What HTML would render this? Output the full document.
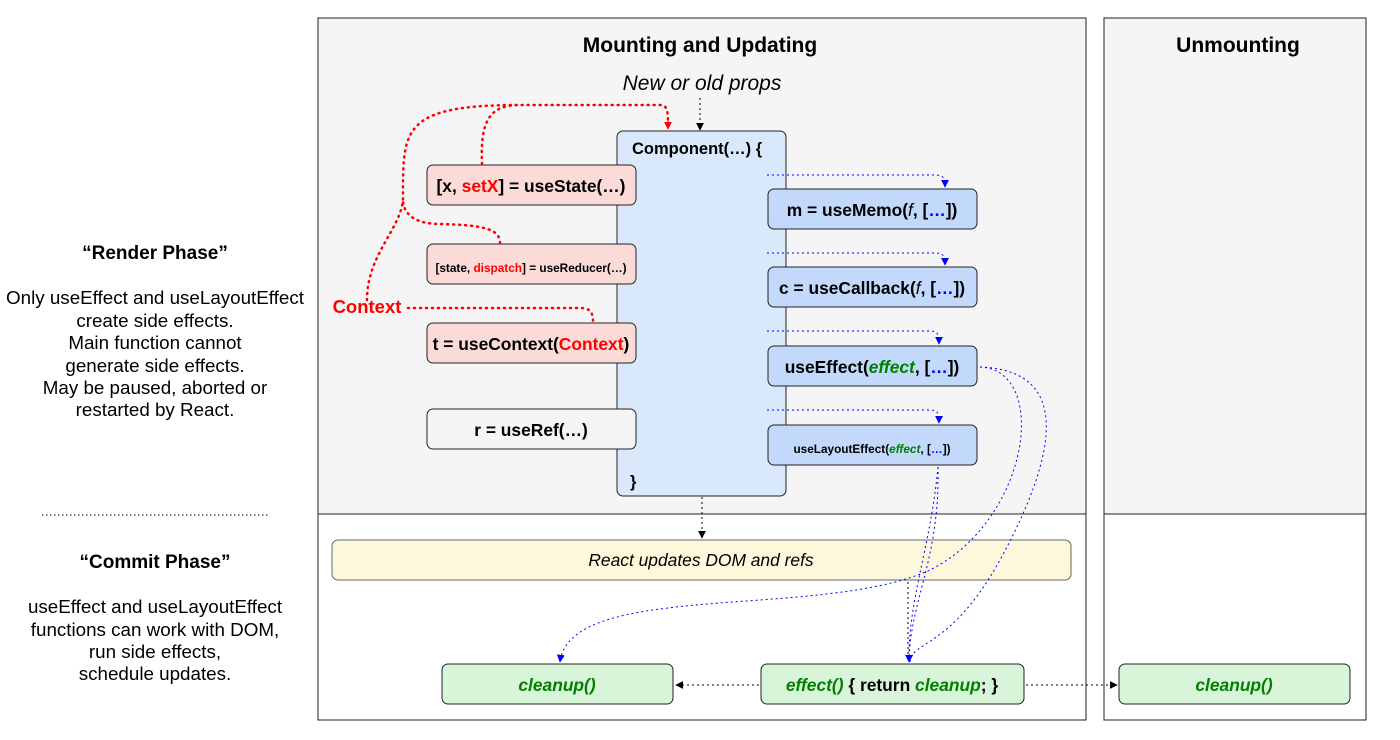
<!DOCTYPE html>
<html><head><style>body{margin:0;background:#fff}svg{display:block}text{font-family:"Liberation Sans",sans-serif}</style></head><body>
<svg width="1400" height="740" viewBox="0 0 1400 740" xmlns="http://www.w3.org/2000/svg">
<defs>
<marker id="ab" viewBox="0 0 10 10" refX="9" refY="5" markerUnits="userSpaceOnUse" markerWidth="8" markerHeight="8" orient="auto"><path d="M0,0L10,5L0,10z" fill="#00f"/></marker>
<marker id="ar" viewBox="0 0 10 10" refX="9" refY="5" markerUnits="userSpaceOnUse" markerWidth="8" markerHeight="8" orient="auto"><path d="M0,0L10,5L0,10z" fill="#f00"/></marker>
<marker id="ak" viewBox="0 0 10 10" refX="9" refY="5" markerUnits="userSpaceOnUse" markerWidth="8" markerHeight="8" orient="auto"><path d="M0,0L10,5L0,10z" fill="#000"/></marker>
</defs>
<rect x="318" y="18" width="768" height="496" fill="#f5f5f5" stroke="#222"/>
<rect x="318" y="514" width="768" height="206" fill="#fff" stroke="#222"/>
<rect x="1104" y="18" width="262" height="496" fill="#f5f5f5" stroke="#222"/>
<rect x="1104" y="514" width="262" height="206" fill="#fff" stroke="#222"/>
<text x="700" y="52" font-size="21" font-weight="bold" text-anchor="middle">Mounting and Updating</text>
<text x="1238" y="52" font-size="21" font-weight="bold" text-anchor="middle">Unmounting</text>
<text x="702" y="90" font-size="21" font-style="italic" text-anchor="middle">New or old props</text>
<g font-size="18.8" text-anchor="middle">
<text x="155" y="259" font-size="19" font-weight="bold">“Render Phase”</text>
<text x="155" y="304">Only useEffect and useLayoutEffect</text>
<text x="155" y="327">create side effects.</text>
<text x="155" y="349">Main function cannot</text>
<text x="155" y="372">generate side effects.</text>
<text x="155" y="394">May be paused, aborted or</text>
<text x="155" y="416">restarted by React.</text>
<text x="155" y="568" font-size="19" font-weight="bold">“Commit Phase”</text>
<text x="155" y="613">useEffect and useLayoutEffect</text>
<text x="155" y="636">functions can work with DOM,</text>
<text x="155" y="658">run side effects,</text>
<text x="155" y="680">schedule updates.</text>
</g>
<line x1="42" y1="515" x2="268" y2="515" stroke="#000" stroke-dasharray="1.5,2.5"/>
<rect x="617" y="131" width="169" height="365" rx="6" fill="#dae8fc" stroke="#222"/>
<text x="632" y="154" font-size="16.5" font-weight="bold">Component(…) {</text>
<text x="630" y="487" font-size="16.5" font-weight="bold">}</text>
<g stroke="#222" font-weight="bold" text-anchor="middle">
<rect x="427" y="165" width="209" height="40" rx="6" fill="#fadbd8"/>
<rect x="427" y="244" width="209" height="40" rx="6" fill="#fadbd8"/>
<rect x="427" y="323" width="209" height="40" rx="6" fill="#fadbd8"/>
<rect x="427" y="409" width="209" height="40" rx="6" fill="#f5f5f5"/>
<rect x="768" y="189" width="209" height="40" rx="6" fill="#c2d9fb"/>
<rect x="768" y="267" width="209" height="40" rx="6" fill="#c2d9fb"/>
<rect x="768" y="346" width="209" height="40" rx="6" fill="#c2d9fb"/>
<rect x="768" y="425" width="209" height="40" rx="6" fill="#c2d9fb"/>
<rect x="332" y="540" width="739" height="40" rx="6" fill="#fdf8db" stroke="#666"/>
<rect x="442" y="664" width="231" height="40" rx="6" fill="#d9f5d9"/>
<rect x="761" y="664" width="263" height="40" rx="6" fill="#d9f5d9"/>
<rect x="1119" y="664" width="231" height="40" rx="6" fill="#d9f5d9"/>
</g>
<g font-weight="bold" text-anchor="middle" font-size="17.4">
<text x="531" y="192">[x, <tspan fill="#f00">setX</tspan>] = useState(…)</text>
<text x="531" y="272" font-size="11.8">[state, <tspan fill="#f00">dispatch</tspan>] = useReducer(…)</text>
<text x="531" y="350">t = useContext(<tspan fill="#f00">Context</tspan>)</text>
<text x="531" y="436">r = useRef(…)</text>
<text x="872" y="216">m = useMemo(<tspan font-style="italic" font-weight="normal">f</tspan>, [<tspan fill="#00f">…</tspan>])</text>
<text x="872" y="294">c = useCallback(<tspan font-style="italic" font-weight="normal">f</tspan>, [<tspan fill="#00f">…</tspan>])</text>
<text x="872" y="373">useEffect(<tspan fill="#008000" font-style="italic">effect</tspan>, [<tspan fill="#00f">…</tspan>])</text>
<text x="872" y="453" font-size="11.8">useLayoutEffect(<tspan fill="#008000" font-style="italic">effect</tspan>, [<tspan fill="#00f">…</tspan>])</text>
<text x="701" y="566" font-weight="normal" font-style="italic">React updates DOM and refs</text>
<text x="557" y="691" fill="#008000" font-style="italic">cleanup()</text>
<text x="892" y="691"><tspan fill="#008000" font-style="italic">effect()</tspan> { return <tspan fill="#008000" font-style="italic">cleanup</tspan>; }</text>
<text x="1234" y="691" fill="#008000" font-style="italic">cleanup()</text>
<text x="367" y="313" fill="#f00" font-size="18.5">Context</text>
</g>
<g fill="none" stroke-dasharray="2,3">
<path d="M700 98V130" stroke="#000" marker-end="url(#ak)"/>
<path d="M702 497V538" stroke="#000" marker-end="url(#ak)"/>
<path d="M908 582V662" stroke="#000"/>
<path d="M759 685H676" stroke="#000" marker-end="url(#ak)"/>
<path d="M1026 685H1117" stroke="#000" marker-end="url(#ak)"/>
</g>
<g fill="none" stroke="#f00" stroke-width="2.5" stroke-dasharray="1,5" stroke-linecap="round">
<path d="M482 164C480 120 490 105 520 105H660C668 105 668 112 668 128"/>
<path d="M367 300C367 255 400 230 403 200C403 130 400 105 520 105"/>
<path d="M500 243C500 228 480 225 440 224C410 224 403 210 403 200"/>
<path d="M408 308H580C590 308 593 312 593 322"/>
</g>
<path d="M668 120V129" stroke="#f00" fill="none" marker-end="url(#ar)"/>
<g fill="none" stroke="#00f" stroke-dasharray="2,3">
<path d="M767 175H935C945 175 945 180 945 187" marker-end="url(#ab)"/>
<path d="M767 253H935C945 253 945 258 945 265" marker-end="url(#ab)"/>
<path d="M767 331H930C939 331 939 336 939 344" marker-end="url(#ab)"/>
<path d="M767 410H930C939 410 939 415 939 423" marker-end="url(#ab)"/>
<path d="M938 467C940 560 910 600 909 662" marker-end="url(#ab)"/>
<path d="M938 467C930 550 908 600 909 662"/>
<path d="M980 367C1070 370 1060 450 1000 560C950 650 912 640 910 662"/>
<path d="M980 367C1050 370 1030 520 930 570C820 620 570 580 560 662" marker-end="url(#ab)"/>
</g>
</svg>
</body></html>
